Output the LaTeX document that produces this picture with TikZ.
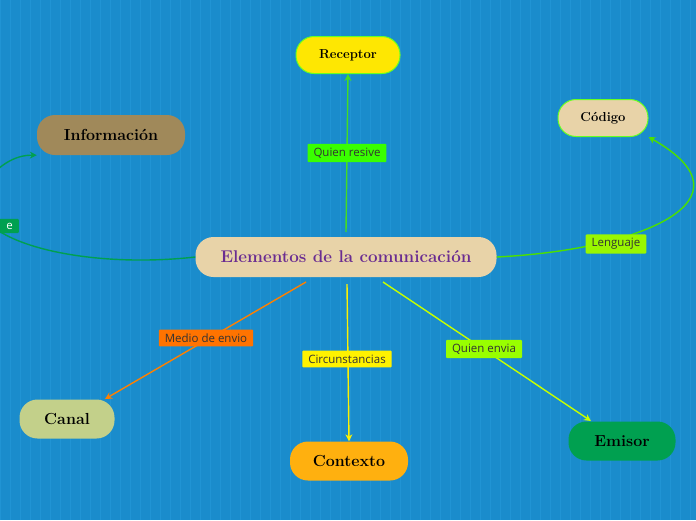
\documentclass[tikz,border=0pt]{standalone}
\usepackage{fontspec}
\newfontfamily\lblfont{Open Sans}
\usetikzlibrary{arrows.meta}
\definecolor{bg}{HTML}{1A8CCC}
\definecolor{gridc}{HTML}{2094D4}
\definecolor{beige}{HTML}{E8D3A8}
\definecolor{purp}{HTML}{6A2C91}
\definecolor{brownish}{HTML}{A0895A}
\definecolor{canalc}{HTML}{C3D08A}
\definecolor{ctx}{HTML}{FFB00F}
\definecolor{emi}{HTML}{00A050}
\definecolor{lgreen}{HTML}{44DD22}
\definecolor{bord}{HTML}{66FF22}
\tikzset{
 topic/.style={rounded corners=18pt, minimum height=38pt, inner xsep=14pt, font=\bfseries\fontsize{16}{18}\selectfont, text=black},
 lbl/.style={font=\lblfont\fontsize{11.5}{13}\selectfont, inner xsep=6pt, inner ysep=4pt, text=black!80, rounded corners=1pt},
 con/.style={line width=1.4pt, -{Stealth[length=7pt,width=7pt]}},
}
\begin{document}
\begin{tikzpicture}[x=1pt,y=-1pt]
\useasboundingbox (0,0) rectangle (696,520);
\clip (0,0) rectangle (696,520);
\fill[bg] (0,0) rectangle (696,520);
\draw[gridc, line width=0.6pt] (0,0) grid[step=10] (696,520);
\node[topic, fill=beige, text=purp, minimum width=301pt, minimum height=40pt, font=\bfseries\fontsize{17}{20}\selectfont] (c) at (346,257) {Elementos de la comunicación};
\node[topic, fill=yellow!90!orange, draw=bord, line width=1pt, minimum width=104pt, minimum height=37pt, font=\bfseries\fontsize{13}{15}\selectfont] (rec) at (348,55) {Receptor};
\node[topic, fill=beige, draw=bord, line width=1pt, minimum width=90pt, minimum height=37pt, font=\bfseries\fontsize{13}{15}\selectfont] (cod) at (603,118) {Código};
\node[topic, fill=brownish, minimum width=148pt, minimum height=40pt] (inf) at (111,135) {Información};
\node[topic, fill=canalc, minimum width=95pt, minimum height=39pt] (can) at (67,419) {Canal};
\node[topic, fill=ctx, minimum width=118pt, minimum height=39pt] (ctxn) at (349,461) {Contexto};
\node[topic, fill=emi, minimum width=107pt, minimum height=39pt] (emi) at (622,441) {Emisor};
% edges
\draw[con, lgreen] (346,232) -- (rec.south) node[lbl, fill=green!70!lime, pos=0.5] {Quien resive};
\draw[con, green!80!black!60!lime] (c.east) .. controls (640,250) and (760,200) .. (cod.south east) ;
\node[lbl, fill=green!85!black!20!lime] at (616,244) {Lenguaje};
\draw[con, emi] (c.west) .. controls (80,270) and (-40,240) .. (-20,190) .. controls (0,160) and (20,155) .. (inf.south west);
\node[lbl, fill=emi, text=white, anchor=east, minimum width=40pt, align=right, text width=28pt] at (19,226) {e};
\draw[con, orange] (306,282) -- (105,399);
\node[lbl, fill=orange!90!red] at (206,338) {Medio de envio};
\draw[con, yellow] (347,284) -- (ctxn.north);
\node[lbl, fill=yellow] at (347,359) {Circunstancias};
\draw[con, lime!90!yellow] (383,282) -- (591,421);
\node[lbl, fill=lime!80!green] at (484,349) {Quien envia};
\end{tikzpicture}
\end{document}
